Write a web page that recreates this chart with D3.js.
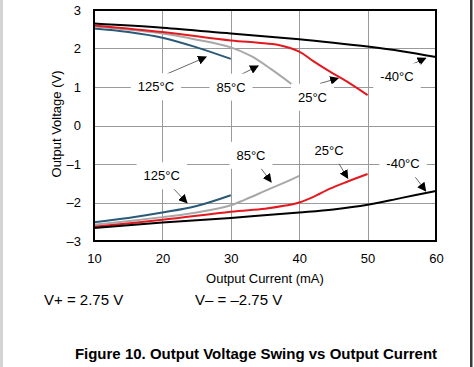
<!DOCTYPE html>
<html>
<head>
<meta charset="utf-8">
<script src="https://cdn.jsdelivr.net/npm/d3@7"></script>
<style>
  body { margin: 0; background: #fff; }
  svg { display: block; font-family: "Liberation Sans", Arial, sans-serif; }
</style>
</head>
<body>
<script>
// curves: [current mA, voltage V]
const hiM40 = [[10, 2.65], [20, 2.54], [30, 2.39], [40, 2.24], [45, 2.15], [50, 2.05], [55, 1.93], [60, 1.78]];
const hi25 = [[10, 2.60], [20, 2.43], [30, 2.21], [34, 2.15], [37, 2.09], [40, 1.92], [42, 1.68], [44.5, 1.40], [47, 1.14], [50, 0.79]];
const hi85 = [[10, 2.57], [20, 2.39], [25, 2.23], [30, 2.03], [33, 1.80], [36, 1.45], [39, 1.06]];
const hi125 = [[10, 2.52], [15, 2.43], [20, 2.28], [25, 2.03], [30, 1.73]];

const loM40 = [[10, -2.66], [20, -2.52], [30, -2.40], [40, -2.26], [45, -2.18], [50, -2.06], [55, -1.88], [60, -1.70]];
const lo25 = [[10, -2.63], [20, -2.45], [30, -2.24], [35, -2.16], [38, -2.08], [40, -2.00], [42, -1.86], [44.5, -1.64], [47, -1.46], [50, -1.26]];
const lo85 = [[10, -2.58], [20, -2.38], [25, -2.26], [30, -2.07], [32, -1.93], [35, -1.70], [38, -1.47], [40, -1.31]];
const lo125 = [[10, -2.51], [15, -2.40], [20, -2.26], [25, -2.09], [30, -1.81]];

const xTicks = [10, 20, 30, 40, 50, 60];
const yTicks = [-3, -2, -1, 0, 1, 2, 3];

// label text, label position, arrow start, arrow tip (all in data units)
const notes = [
  ["125°C", [19.06, 1.01], [20.67, 1.34], [26.4, 1.78]],
  ["85°C", [30.03, 1.00], [31.35, 1.31], [34.0, 1.55]],
  ["25°C", [41.94, 0.74], [43.04, 1.09], [45.7, 1.23]],
  ["-40°C", [54.3, 1.27], [55.76, 1.53], [58.5, 1.75]],
  ["125°C", [19.9, -1.30], [20.82, -1.49], [23.6, -2.01]],
  ["85°C", [32.95, -0.77], [33.83, -0.97], [35.9, -1.47]],
  ["25°C", [44.36, -0.64], [45.23, -0.82], [47.1, -1.37]],
  ["-40°C", [55.18, -0.99], [56.2, -1.16], [58.5, -1.70]]
];

const W = 474, H = 367;
const svg = d3.select("body").append("svg").attr("width", W).attr("height", H);

svg.append("rect").attr("x", 0).attr("y", 0).attr("width", 3).attr("height", H).attr("fill", "#d4d4d4");
svg.append("rect").attr("x", 470).attr("y", 0).attr("width", 2.5).attr("height", H).attr("fill", "#3a3a3a");

const x = d3.scaleLinear().domain([10, 60]).range([94, 436]);
const y = d3.scaleLinear().domain([-3, 3]).range([241, 10]);

const grid = svg.append("g").attr("stroke", "#9a9a9a").attr("stroke-width", 1);
grid.selectAll(".gx").data(xTicks.slice(1, -1)).join("line")
    .attr("x1", d => Math.round(x(d)) + 0.5).attr("x2", d => Math.round(x(d)) + 0.5)
    .attr("y1", y(3)).attr("y2", y(-3));
grid.selectAll(".gy").data(yTicks.slice(1, -1)).join("line")
    .attr("y1", d => Math.round(y(d)) + 0.5).attr("y2", d => Math.round(y(d)) + 0.5)
    .attr("x1", x(10)).attr("x2", x(60));

const line = d3.line().x(d => x(d[0])).y(d => y(d[1])).curve(d3.curveCatmullRom.alpha(0.5));
const series = [
  [hi125, "#2b5a78"], [hi85, "#a8a8a8"], [hi25, "#e3191f"], [hiM40, "#000"],
  [lo125, "#2b5a78"], [lo85, "#a8a8a8"], [lo25, "#e3191f"], [loM40, "#000"]
];
svg.append("g").selectAll("path").data(series).join("path")
    .attr("d", d => line(d[0]))
    .attr("fill", "none")
    .attr("stroke", d => d[1])
    .attr("stroke-width", 2);

// arrowhead
svg.append("defs").append("marker")
    .attr("id", "tri").attr("viewBox", "0 0 10 10")
    .attr("refX", 9).attr("refY", 5)
    .attr("markerWidth", 9).attr("markerHeight", 9)
    .attr("markerUnits", "userSpaceOnUse")
    .attr("orient", "auto")
  .append("path").attr("d", "M0,0L10,5L0,10Z").attr("fill", "#000");

const note = svg.append("g").selectAll("g").data(notes).join("g");
note.append("line")
    .attr("x1", d => x(d[2][0])).attr("y1", d => y(d[2][1]))
    .attr("x2", d => x(d[3][0])).attr("y2", d => y(d[3][1]))
    .attr("stroke", "#555").attr("stroke-width", 0.9)
    .attr("marker-end", "url(#tri)");
const bg = note.append("rect").attr("fill", "#fff");
const txt = note.append("text")
    .attr("x", d => x(d[1][0])).attr("y", d => y(d[1][1]))
    .attr("text-anchor", "middle").attr("dy", "0.36em")
    .attr("font-size", 13).attr("fill", "#000")
    .text(d => d[0]);
txt.each(function() {
  const b = this.getBBox();
  d3.select(this.previousSibling)
      .attr("x", b.x - 7).attr("y", b.y - 6)
      .attr("width", b.width + 14).attr("height", b.height + 12);
});

// frame
svg.append("rect").attr("x", x(10)).attr("y", y(3))
    .attr("width", x(60) - x(10)).attr("height", y(-3) - y(3))
    .attr("fill", "none").attr("stroke", "#000").attr("stroke-width", 2);

const fmt = d => d < 0 ? "–" + Math.abs(d) : String(d);
const ax = svg.append("g").attr("transform", `translate(0,${y(-3) + 10})`)
    .call(d3.axisBottom(x).tickValues(xTicks).tickSize(0).tickFormat(fmt));
const ay = svg.append("g").attr("transform", `translate(${x(10) - 10},0)`)
    .call(d3.axisLeft(y).tickValues(yTicks).tickSize(0).tickFormat(fmt));
[ax, ay].forEach(a => {
  a.select(".domain").remove();
  a.selectAll("text").attr("font-size", 13).attr("fill", "#000")
      .attr("font-family", "Liberation Sans, Arial, sans-serif");
});

svg.append("text").attr("x", 265).attr("y", 283)
    .attr("text-anchor", "middle").attr("font-size", 13)
    .text("Output Current (mA)");
svg.append("text").attr("transform", "translate(61,124) rotate(-90)")
    .attr("text-anchor", "middle").attr("font-size", 13)
    .text("Output Voltage (V)");

svg.append("text").attr("x", 44).attr("y", 305).attr("font-size", 15).text("V+ = 2.75 V");
svg.append("text").attr("x", 195).attr("y", 305).attr("font-size", 15).text("V– = –2.75 V");

svg.append("text").attr("x", 256).attr("y", 358.5)
    .attr("text-anchor", "middle").attr("font-size", 15).attr("font-weight", "bold")
    .text("Figure 10. Output Voltage Swing vs Output Current");
</script>
</body>
</html>
